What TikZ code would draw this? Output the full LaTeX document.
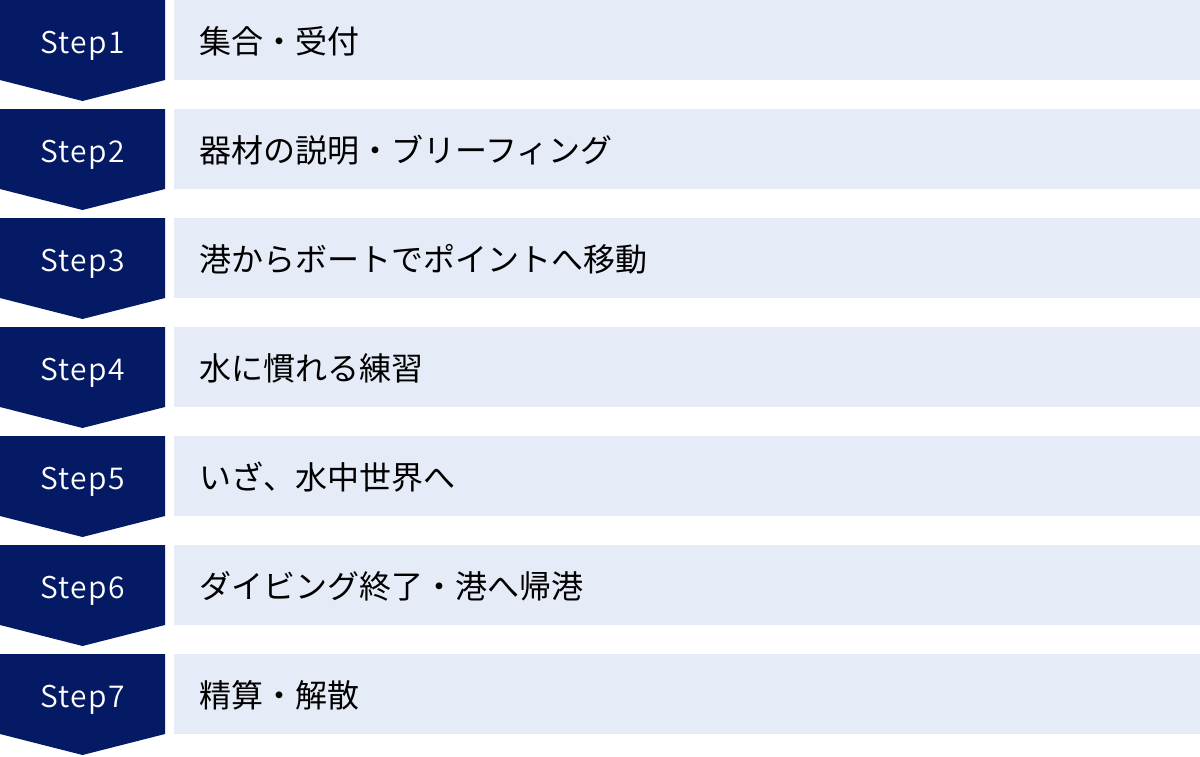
\documentclass[tikz,border=0pt]{standalone}
\usepackage{fontspec}
\setmainfont{Noto Sans CJK JP}
\newfontfamily\stepfont[LetterSpace=5]{Noto Sans CJK JP DemiLight}
\definecolor{stepnavy}{HTML}{051A64}
\definecolor{steplight}{HTML}{E6EBF8}
\tikzset{
  steplabel/.style={anchor=base,text=white,inner sep=0pt,font=\stepfont\fontsize{30}{30}\selectfont},
  steptext/.style={anchor=base west,text=black,inner sep=0pt,font=\fontsize{32}{32}\selectfont}
}
\begin{document}
\begin{tikzpicture}[x=1pt,y=1pt]
            \useasboundingbox (0,0) rectangle (1200,-756);
            % one row per step: arrow block on the left, text bar on the right
            \foreach \n/\t in {1/集合・受付,2/器材の説明・ブリーフィング,3/港からボートでポイントへ移動,4/水に慣れる練習,5/いざ、水中世界へ,6/ダイビング終了・港へ帰港,7/精算・解散}
            {
                \pgfmathsetmacro{\y}{-109*(\n-1)}
                \fill[stepnavy] (0,\y) -- (165,\y) -- (165,\y-80) -- (82.5,\y-101) -- (0,\y-80) -- cycle;
                \fill[steplight] (174,\y) rectangle (1200,\y-80);
                \node[steplabel] (s\n) at (82.5,\y-53) {Step\n};
                \node[steptext] (t\n) at (199,\y-53) {\t};
            }
        \end{tikzpicture}
\end{document}
